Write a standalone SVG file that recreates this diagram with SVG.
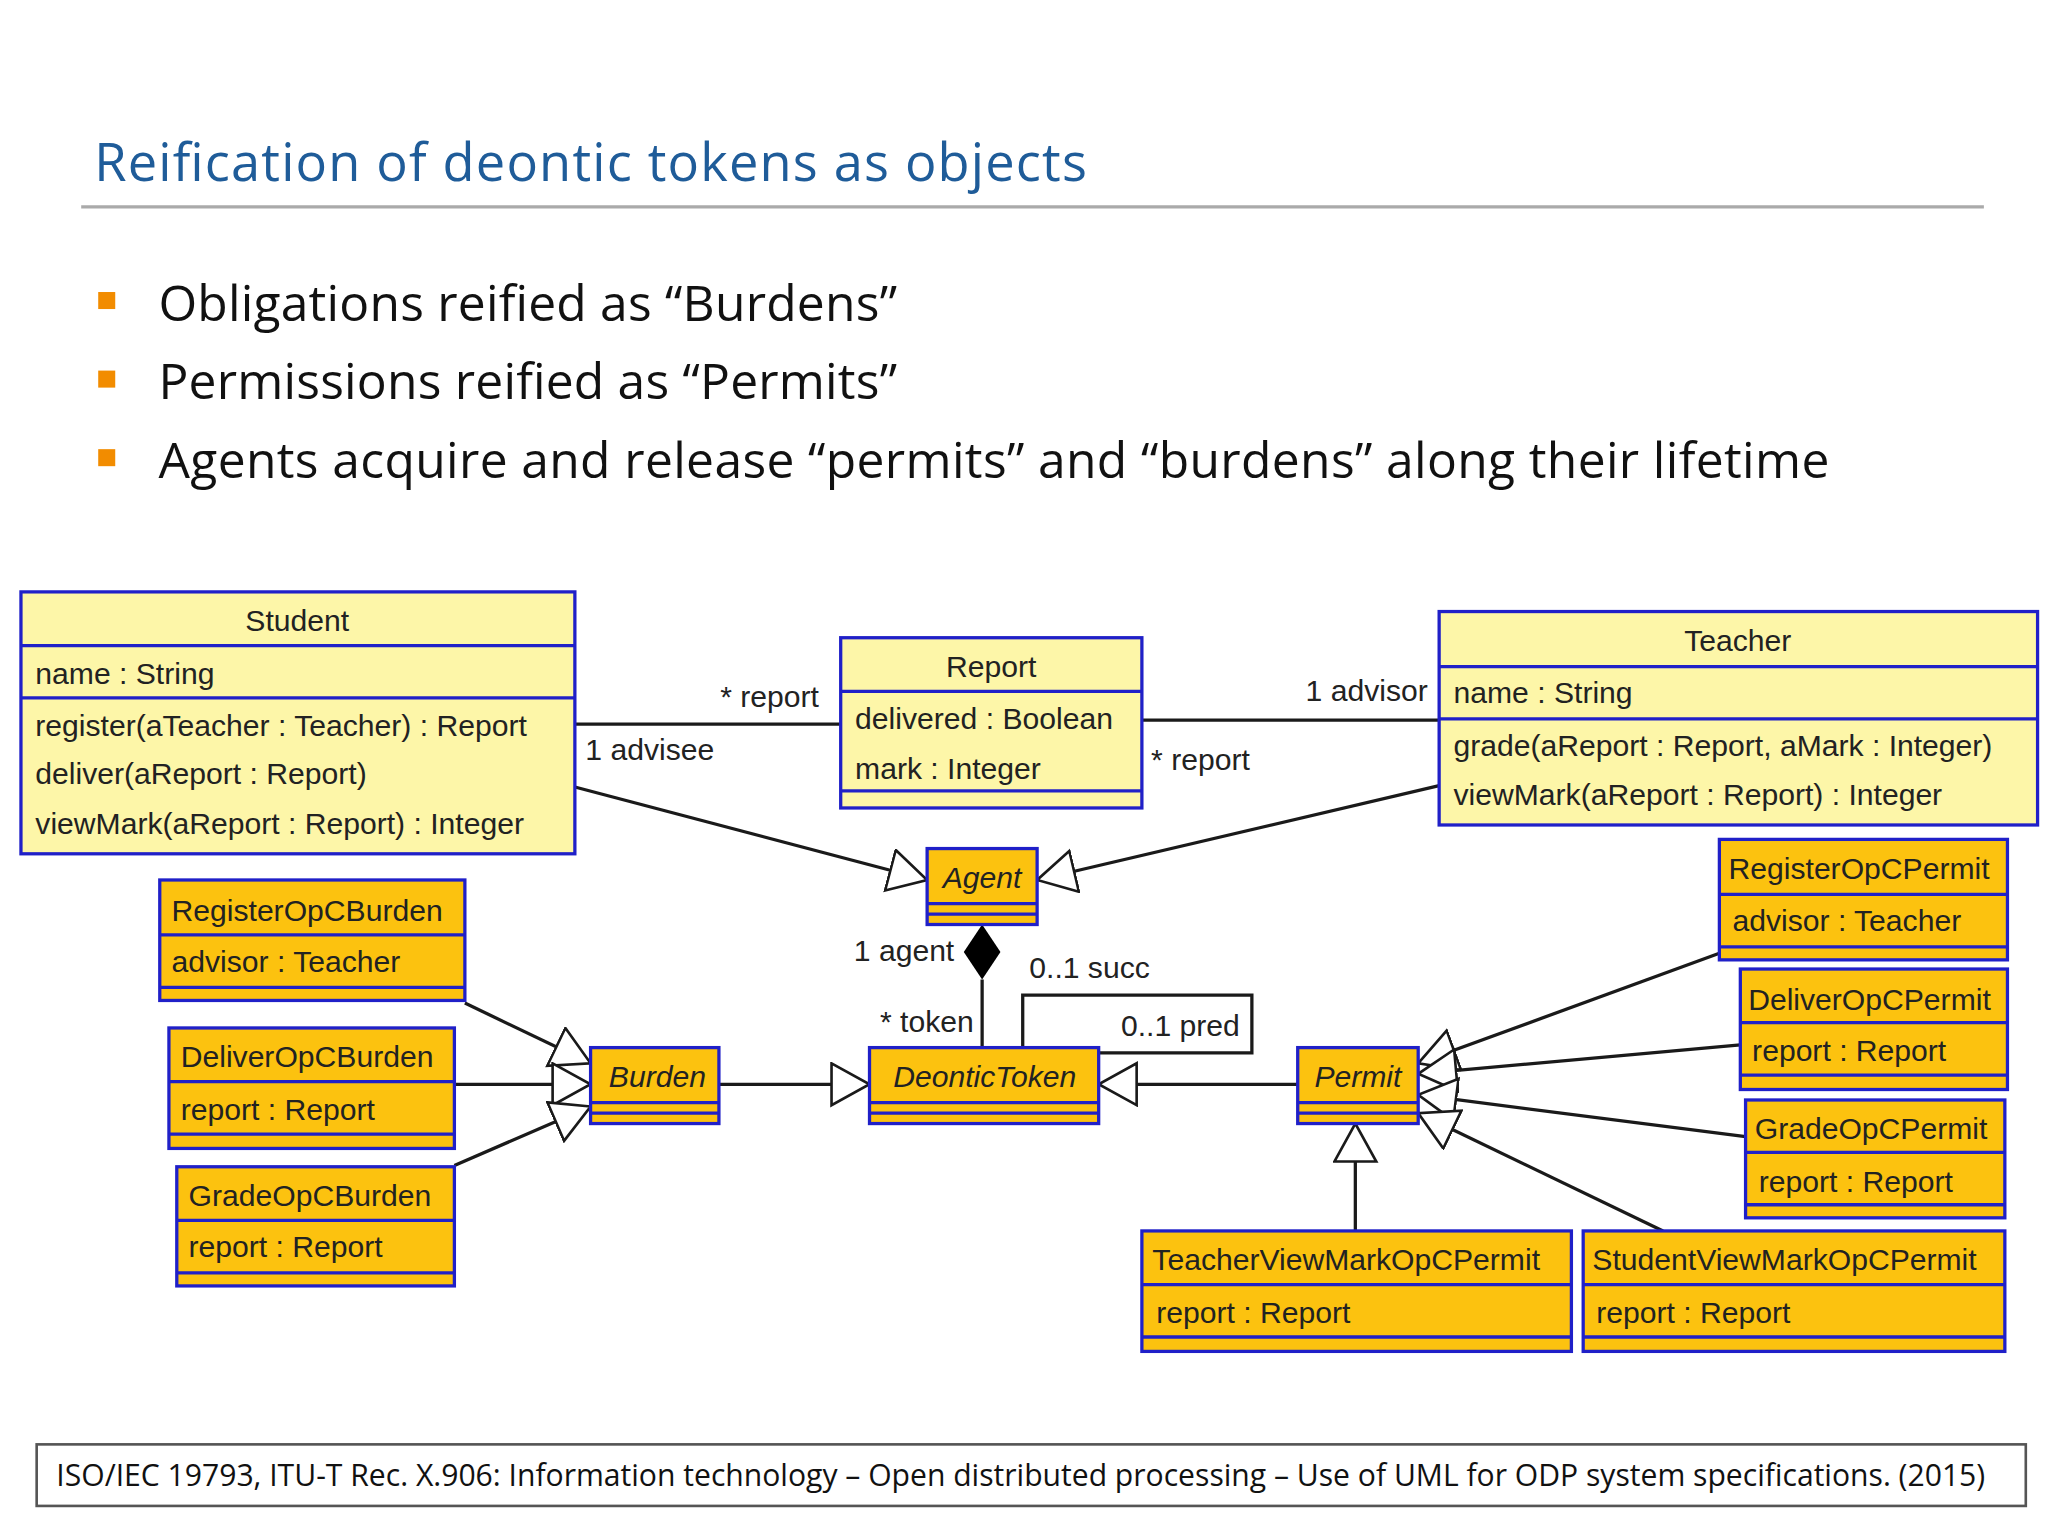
<svg xmlns="http://www.w3.org/2000/svg" width="2048" height="1536" viewBox="0 0 2048 1536">
<style>
.t{font-family:"Liberation Sans",Arial,sans-serif;font-size:23px;fill:#222}
.ti{font-family:"Liberation Sans",Arial,sans-serif;font-size:23px;fill:#222;font-style:italic}
.c{stroke:#1a1a1a;stroke-width:2.5;fill:none}
.py{fill:#fdf6a8;stroke:#2020c8;stroke-width:2.5}
.oy{fill:#fcc20f;stroke:#2020c8;stroke-width:2.5}
.sep{stroke:#2020c8;stroke-width:2.5}
.bul{font-family:"Open Sans",sans-serif;font-size:38px;fill:#111}
</style>
<defs>
<marker id="gen" markerUnits="userSpaceOnUse" markerWidth="34" markerHeight="36" refX="30" refY="17" orient="auto" viewBox="0 0 34 36">
<path d="M1,1 L30,17 L1,33 Z" fill="#fff" stroke="#1a1a1a" stroke-width="2"/>
</marker>
</defs>
<rect width="2048" height="1536" fill="#fff"/>
<g transform="scale(1.3095)">
<text x="72" y="138" font-family="Open Sans,sans-serif" font-size="40" fill="#1f5c99" textLength="758">Reification of deontic tokens as objects</text>
<line x1="62" y1="158" x2="1515" y2="158" stroke="#aaa" stroke-width="2.5"/>
<rect x="75" y="223" width="13" height="13" fill="#f28c00"/>
<rect x="75" y="283" width="13" height="13" fill="#f28c00"/>
<rect x="75" y="343" width="13" height="13" fill="#f28c00"/>
<text class="bul" x="121" y="245" textLength="564">Obligations reified as “Burdens”</text>
<text class="bul" x="121" y="305" textLength="564">Permissions reified as “Permits”</text>
<text class="bul" x="121" y="365" textLength="1276">Agents acquire and release “permits” and “burdens” along their lifetime</text>

<g id="connectors">
<line class="c" x1="439" y1="553" x2="642" y2="553"/>
<line class="c" x1="872" y1="550" x2="1099" y2="550"/>
<line class="c" x1="439" y1="601" x2="708" y2="672" marker-end="url(#gen)"/>
<line class="c" x1="1099" y1="600" x2="792" y2="672" marker-end="url(#gen)"/>
<line class="c" x1="750" y1="748" x2="750" y2="800"/>
<path d="M750,706 L764,727 L750,748 L736,727 Z" fill="#000"/>
<path class="c" d="M781,800 V760 H956 V804 H839"/>
<line class="c" x1="549" y1="828" x2="664" y2="828" marker-end="url(#gen)"/>
<line class="c" x1="991" y1="828" x2="839" y2="828" marker-end="url(#gen)"/>
<line class="c" x1="355" y1="766" x2="451" y2="812" marker-end="url(#gen)"/>
<line class="c" x1="347" y1="828" x2="451" y2="828" marker-end="url(#gen)"/>
<line class="c" x1="347" y1="890" x2="451" y2="845" marker-end="url(#gen)"/>
<line class="c" x1="1313" y1="728" x2="1083" y2="812" marker-end="url(#gen)"/>
<line class="c" x1="1329" y1="798" x2="1083" y2="820" marker-end="url(#gen)"/>
<line class="c" x1="1333" y1="868" x2="1083" y2="836" marker-end="url(#gen)"/>
<line class="c" x1="1270" y1="940" x2="1083" y2="850" marker-end="url(#gen)"/>
<line class="c" x1="1035" y1="940" x2="1035" y2="858" marker-end="url(#gen)"/>
<text class="t" x="550" y="540">* report</text>
<text class="t" x="447" y="580">1 advisee</text>
<text class="t" x="997" y="535">1 advisor</text>
<text class="t" x="879" y="588">* report</text>
<text class="t" x="652" y="734">1 agent</text>
<text class="t" x="672" y="788">* token</text>
<text class="t" x="786" y="747">0..1 succ</text>
<text class="t" x="856" y="791">0..1 pred</text>
</g>

<g id="Student">
<rect class="py" x="16" y="452" width="423" height="200"/>
<line class="sep" x1="16" y1="493" x2="439" y2="493"/><line class="sep" x1="16" y1="533" x2="439" y2="533"/>
<text class="t" x="227" y="482" text-anchor="middle">Student</text>
<text class="t" x="27" y="522">name : String</text>
<text class="t" x="27" y="562">register(aTeacher : Teacher) : Report</text>
<text class="t" x="27" y="599">deliver(aReport : Report)</text>
<text class="t" x="27" y="637">viewMark(aReport : Report) : Integer</text>
</g>
<g id="Report">
<rect class="py" x="642" y="487" width="230" height="130"/>
<line class="sep" x1="642" y1="528" x2="872" y2="528"/><line class="sep" x1="642" y1="604" x2="872" y2="604"/>
<text class="t" x="757" y="517" text-anchor="middle">Report</text>
<text class="t" x="653" y="557">delivered : Boolean</text>
<text class="t" x="653" y="595">mark : Integer</text>
</g>
<g id="Teacher">
<rect class="py" x="1099" y="467" width="457" height="163"/>
<line class="sep" x1="1099" y1="509" x2="1556" y2="509"/><line class="sep" x1="1099" y1="549" x2="1556" y2="549"/>
<text class="t" x="1327" y="497" text-anchor="middle">Teacher</text>
<text class="t" x="1110" y="537">name : String</text>
<text class="t" x="1110" y="577">grade(aReport : Report, aMark : Integer)</text>
<text class="t" x="1110" y="615">viewMark(aReport : Report) : Integer</text>
</g>
<g id="Agent">
<rect class="oy" x="708" y="648" width="84" height="58"/>
<line class="sep" x1="708" y1="690" x2="792" y2="690"/><line class="sep" x1="708" y1="698" x2="792" y2="698"/>
<text class="ti" x="750" y="678" text-anchor="middle">Agent</text>
</g>
<g id="DeonticToken">
<rect class="oy" x="664" y="800" width="175" height="58"/>
<line class="sep" x1="664" y1="842" x2="839" y2="842"/><line class="sep" x1="664" y1="850" x2="839" y2="850"/>
<text class="ti" x="752" y="830" text-anchor="middle">DeonticToken</text>
</g>
<g id="Burden">
<rect class="oy" x="451" y="800" width="98" height="58"/>
<line class="sep" x1="451" y1="842" x2="549" y2="842"/><line class="sep" x1="451" y1="850" x2="549" y2="850"/>
<text class="ti" x="502" y="830" text-anchor="middle">Burden</text>
</g>
<g id="Permit">
<rect class="oy" x="991" y="800" width="92" height="58"/>
<line class="sep" x1="991" y1="842" x2="1083" y2="842"/><line class="sep" x1="991" y1="850" x2="1083" y2="850"/>
<text class="ti" x="1037" y="830" text-anchor="middle">Permit</text>
</g>
<g id="RegisterOpCBurden">
<rect class="oy" x="122" y="672" width="233" height="92"/>
<line class="sep" x1="122" y1="714" x2="355" y2="714"/><line class="sep" x1="122" y1="754" x2="355" y2="754"/>
<text class="t" x="131" y="703">RegisterOpCBurden</text>
<text class="t" x="131" y="742">advisor : Teacher</text>
</g>
<g id="DeliverOpCBurden">
<rect class="oy" x="129" y="785" width="218" height="92"/>
<line class="sep" x1="129" y1="826" x2="347" y2="826"/><line class="sep" x1="129" y1="866" x2="347" y2="866"/>
<text class="t" x="138" y="815">DeliverOpCBurden</text>
<text class="t" x="138" y="855">report : Report</text>
</g>
<g id="GradeOpCBurden">
<rect class="oy" x="135" y="891" width="212" height="91"/>
<line class="sep" x1="135" y1="932" x2="347" y2="932"/><line class="sep" x1="135" y1="972" x2="347" y2="972"/>
<text class="t" x="144" y="921">GradeOpCBurden</text>
<text class="t" x="144" y="960">report : Report</text>
</g>
<g id="RegisterOpCPermit">
<rect class="oy" x="1313" y="641" width="220" height="92"/>
<line class="sep" x1="1313" y1="683" x2="1533" y2="683"/><line class="sep" x1="1313" y1="723" x2="1533" y2="723"/>
<text class="t" x="1320" y="671">RegisterOpCPermit</text>
<text class="t" x="1323" y="711">advisor : Teacher</text>
</g>
<g id="DeliverOpCPermit">
<rect class="oy" x="1329" y="740" width="204" height="92"/>
<line class="sep" x1="1329" y1="781" x2="1533" y2="781"/><line class="sep" x1="1329" y1="821" x2="1533" y2="821"/>
<text class="t" x="1335" y="771">DeliverOpCPermit</text>
<text class="t" x="1338" y="810">report : Report</text>
</g>
<g id="GradeOpCPermit">
<rect class="oy" x="1333" y="840" width="198" height="90"/>
<line class="sep" x1="1333" y1="880" x2="1531" y2="880"/><line class="sep" x1="1333" y1="920" x2="1531" y2="920"/>
<text class="t" x="1340" y="870">GradeOpCPermit</text>
<text class="t" x="1343" y="910">report : Report</text>
</g>
<g id="TeacherViewMarkOpCPermit">
<rect class="oy" x="872" y="940" width="328" height="92"/>
<line class="sep" x1="872" y1="981" x2="1200" y2="981"/><line class="sep" x1="872" y1="1021" x2="1200" y2="1021"/>
<text class="t" x="880" y="970">TeacherViewMarkOpCPermit</text>
<text class="t" x="883" y="1010">report : Report</text>
</g>
<g id="StudentViewMarkOpCPermit">
<rect class="oy" x="1209" y="940" width="322" height="92"/>
<line class="sep" x1="1209" y1="981" x2="1531" y2="981"/><line class="sep" x1="1209" y1="1021" x2="1531" y2="1021"/>
<text class="t" x="1216" y="970">StudentViewMarkOpCPermit</text>
<text class="t" x="1219" y="1010">report : Report</text>
</g>
<rect x="28" y="1103" width="1519" height="47" fill="#fff" stroke="#555" stroke-width="2"/>
<text x="43" y="1135" font-family="Open Sans,sans-serif" font-size="23" fill="#111" textLength="1473">ISO/IEC 19793, ITU-T Rec. X.906: Information technology – Open distributed processing – Use of UML for ODP system specifications. (2015)</text>
</g>
</svg>
